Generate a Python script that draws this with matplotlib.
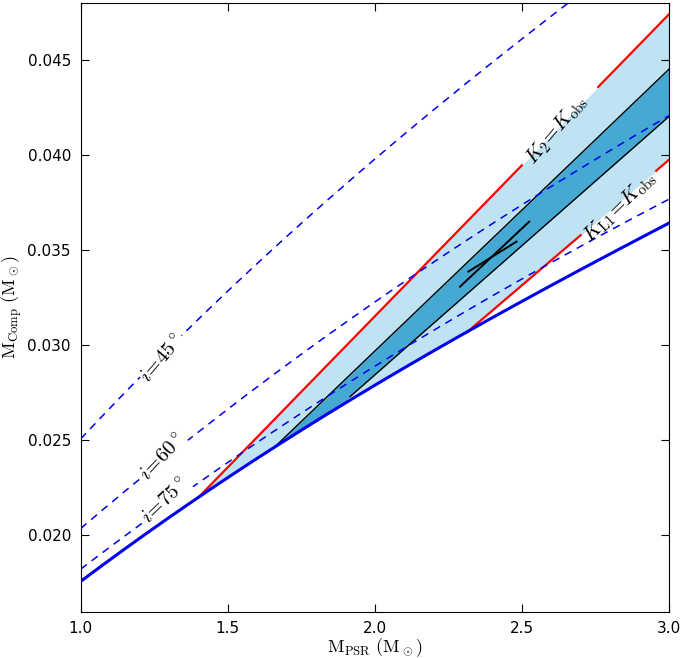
import numpy as np
import matplotlib
matplotlib.use("Agg")
import matplotlib.pyplot as plt

plt.rcParams['mathtext.fontset'] = 'cm'

# inclination curves
mpsr = [1.0, 1.25, 1.5, 1.75, 2.0, 2.25, 2.5, 2.75, 3.0]
mc_i90 = [0.01754, 0.0204, 0.0230, 0.0255, 0.0279, 0.0301, 0.0323, 0.0344, 0.0364]
mc_i75 = [0.01819, 0.0211, 0.0238, 0.0264, 0.0289, 0.0312, 0.0335, 0.0356, 0.03767]
mc_i60 = [0.02032, 0.0236, 0.0266, 0.0295, 0.0323, 0.0348, 0.0374, 0.0398, 0.04205]
mc_i45 = [0.02504, 0.0291, 0.0328, 0.0364, 0.0398, 0.0430, 0.0461, 0.0491, 0.0520]

# constraint lines (endpoints)
k2_x = [1.402, 3.0];  k2_y = [0.0220, 0.0474]
kl1_x = [2.312, 3.0]; kl1_y = [0.03065, 0.03974]
bu_x = [1.655, 3.0];  bu_y = [0.02456, 0.04451]
bl_x = [1.916, 3.0];  bl_y = [0.02728, 0.04202]
# cross
c1_x = [2.29, 2.525]; c1_y = [0.03307, 0.03649]
c2_x = [2.318, 2.482]; c2_y = [0.03386, 0.03544]

def lin(xs, ys, x):
    s = (ys[1]-ys[0])/(xs[1]-xs[0])
    return ys[0] + s*(np.asarray(x)-xs[0])

def smooth(ys):
    p = np.polyfit(mpsr, ys, 3)
    return lambda x: np.polyval(p, x)

fig = plt.figure(figsize=(6.86, 6.58), dpi=100)
ax = fig.add_axes([0.1176, 0.0704, 0.975-0.1176, 0.996-0.0704])

blue = smooth(mc_i90)
xx = np.linspace(k2_x[0], 3.0, 400)
ax.fill_between(xx, np.maximum(blue(xx), lin(kl1_x, kl1_y, xx)), lin(k2_x, k2_y, xx),
                color='#bfe3f2', lw=0, zorder=1)
xd = np.linspace(bu_x[0], 3.0, 400)
ax.fill_between(xd, np.maximum(blue(xd), lin(bl_x, bl_y, xd)), lin(bu_x, bu_y, xd),
                color='#45a9d3', lw=0, zorder=2)

ax.plot(bu_x, bu_y, color='black', lw=1, zorder=3)
ax.plot(bl_x, bl_y, color='black', lw=1, zorder=3)

# red lines with gaps
for a, b in [(k2_x[0], 2.50), (2.76, 3.0)]:
    ax.plot([a, b], lin(k2_x, k2_y, [a, b]), color='red', lw=1.6, zorder=4)
for a, b in [(kl1_x[0], 2.70), (2.957, 3.0)]:
    ax.plot([a, b], lin(kl1_x, kl1_y, [a, b]), color='red', lw=1.6, zorder=4)

xs = np.linspace(1.0, 3.0, 300)
ax.plot(xs, blue(xs), color='#0000ee', lw=2.2, zorder=8)
for ys in (mc_i75, mc_i60, mc_i45):
    ax.plot(xs, smooth(ys)(xs), color='#0000ee', lw=1.1, ls=(0, (5, 4)), zorder=5)

ax.plot(c1_x, c1_y, color='black', lw=1.4, zorder=6)
ax.plot(c2_x, c2_y, color='black', lw=1.4, zorder=6)

tk = dict(fontsize=15, zorder=7, ha='center', va='center',
          bbox=dict(facecolor='white', edgecolor='none', pad=0.3))
ax.text(1.28, 0.0293, r'$i\!=\!45^\circ$', rotation=50, **tk)
ax.text(1.28, 0.0241, r'$i\!=\!60^\circ$', rotation=47, **tk)
ax.text(1.29, 0.0218, r'$i\!=\!75^\circ$', rotation=44, **tk)
tk2 = dict(fontsize=15, zorder=7, ha='center', va='center')
ax.text(2.62, 0.0413, r'$K_2\!=\!K_{\rm obs}$', rotation=50, **tk2)
ax.text(2.833, 0.03728, r'$K_{\rm L1}\!=\!K_{\rm obs}$', rotation=44, **tk2)

ax.set_xlim(1.0, 3.0)
ax.set_ylim(0.01596, 0.04802)
ax.set_xticks([1.0, 1.5, 2.0, 2.5, 3.0])
ax.set_yticks([0.020, 0.025, 0.030, 0.035, 0.040, 0.045])
ax.set_yticklabels(['0.020', '0.025', '0.030', '0.035', '0.040', '0.045'])
ax.tick_params(direction='in', top=True, right=True, labelsize=11, length=6, pad=7)
ax.set_xlabel(r'$\rm M_{PSR}\ (M_\odot)$', fontsize=13, labelpad=0)
ax.set_ylabel(r'$\rm M_{Comp}\ (M_\odot)$', fontsize=13, labelpad=2)
fig.savefig('out.png', dpi=100)
